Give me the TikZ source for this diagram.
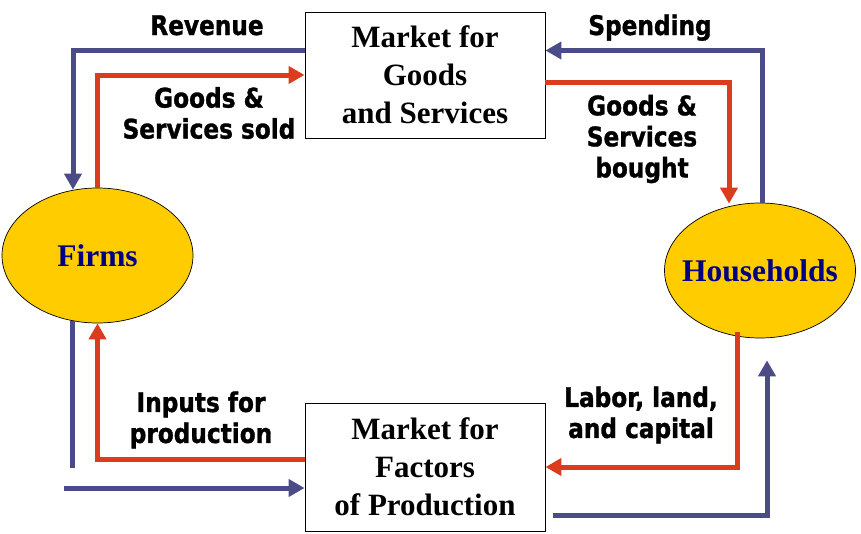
\documentclass[tikz,border=0pt]{standalone}
\usepackage{fontspec}
\setmainfont{Liberation Serif}
\newfontfamily\lblfont{DejaVu Sans}[FakeStretch=0.86,BoldFeatures={FakeBold=1.2}]
\usetikzlibrary{arrows.meta,shapes.geometric}
\definecolor{flowblue}{RGB}{75,75,135}
\definecolor{flowred}{RGB}{220,60,30}
\definecolor{gold}{RGB}{255,204,0}
\definecolor{navytext}{RGB}{0,0,128}
\begin{document}
\begin{tikzpicture}[x=1pt,y=-1pt,
  marketbox/.style={draw=black,line width=0.9pt,fill=white,minimum width=240pt,inner sep=0pt,align=center,
    font=\fontsize{31}{38}\selectfont\bfseries},
  agent/.style={ellipse,draw=black,line width=0.7pt,fill=gold,minimum width=191pt,minimum height=135pt,inner sep=0pt,
    text=navytext,font=\fontsize{31.5}{36}\selectfont\bfseries},
  flowlabel/.style={align=center,inner sep=0pt,font=\lblfont\fontsize{27}{31}\selectfont\bfseries},
  tip/.style={-{Triangle[width=17pt,length=16pt]}},
  blueflow/.style={draw=flowblue,line width=5pt},
  redflow/.style={draw=flowred,line width=5pt}]
\useasboundingbox (0,0) rectangle (861,533);
% nodes
\node[marketbox,minimum height=126pt] (mg) at (425,75) {Market for\\Goods\\and Services};
\node[marketbox,minimum height=128pt] (mf) at (425,467) {Market for\\Factors\\of Production};
\node[agent] (firms) at (97.5,255.5) {\makebox[0pt]{Firms}};
\node[agent] (hh) at (760,270.5) {\makebox[0pt]{Households}};
% labels
\node[flowlabel,anchor=base] (lrev) at (207,35) {Revenue};
\node[flowlabel,anchor=base] (lspend) at (650,35) {Spending};
\node[flowlabel] (lsold) at (209,113) {Goods \&\\Services sold};
\node[flowlabel] (lbought) at (642,139) {Goods \&\\Services\\bought};
\node[flowlabel] (linputs) at (201,420) {Inputs for\\production};
\node[flowlabel] (llabor) at (641,415) {Labor, land,\\and capital};
% free ends
\coordinate (revend) at ([xshift=-24.5pt,yshift=-2pt]firms.north);
\coordinate (boughtend) at ([xshift=-31pt,yshift=-1pt]hh.north);
\coordinate (lowA) at ([xshift=-25pt,yshift=2pt]firms.south);
\coordinate (lowB) at (72.5,468);
\coordinate (lowC) at (64,488);
\coordinate (brA) at ([xshift=8pt,yshift=-48pt]mf.east);
\coordinate (brB) at ([xshift=7pt,yshift=-22pt]hh.south);
% connectors
\draw[blueflow,tip] ([yshift=24.5pt]mg.west) -| (revend);
\draw[redflow,tip] (firms.north) |- (mg.west);
\draw[blueflow,tip] ([xshift=2pt]hh.north) |- ([yshift=24.5pt]mg.east);
\draw[redflow,tip] ([yshift=-7pt]mg.east) -| (boughtend);
\draw[redflow,tip] ([yshift=8pt]mf.west) -| (firms.south);
\draw[blueflow] (lowA) -- (lowB);
\draw[blueflow,tip] (lowC) -- (lowC -| mf.west);
\draw[redflow,tip] ([xshift=-23pt,yshift=6pt]hh.south) |- (mf.east);
\draw[blueflow,tip] (brA) -| (brB);
\end{tikzpicture}
\end{document}
